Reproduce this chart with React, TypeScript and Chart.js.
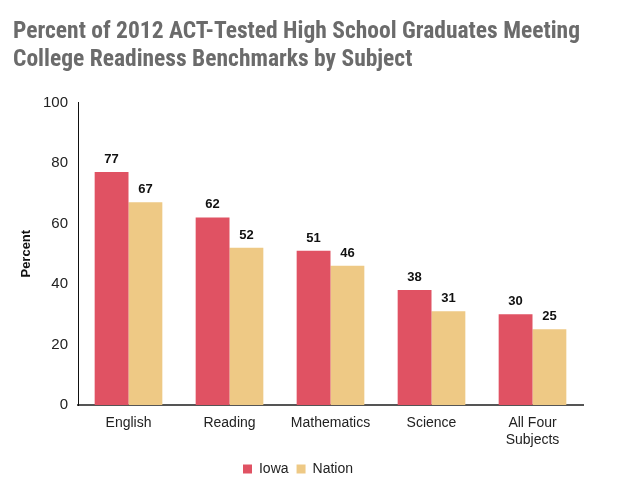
import React, { useEffect, useRef } from "react";
import { Chart, registerables } from "chart.js";

Chart.register(...registerables);

const categories: (string | string[])[] = ["English", "Reading", "Mathematics", "Science", ["All Four", "Subjects"]];
const iowaValues = [77, 62, 51, 38, 30];
const nationValues = [67, 52, 46, 31, 25];
const yTicks = [0, 20, 40, 60, 80, 100];
const titleLines = [
  "Percent of 2012 ACT-Tested High School Graduates Meeting",
  "College Readiness Benchmarks by Subject",
];

const valueLabels = {
  id: "valueLabels",
  afterDatasetsDraw(chart: any) {
    const ctx = chart.ctx;
    ctx.save();
    ctx.font = "bold 13px 'Liberation Sans', Arial, sans-serif";
    ctx.fillStyle = "#111";
    ctx.textAlign = "center";
    ctx.textBaseline = "bottom";
    chart.data.datasets.forEach((ds: any, i: number) => {
      const meta = chart.getDatasetMeta(i);
      meta.data.forEach((bar: any, j: number) => {
        ctx.fillText(String(ds.data[j]), bar.x, bar.y - 6);
      });
    });
    ctx.restore();
  },
};

export default function App() {
  const ref = useRef<HTMLCanvasElement>(null);
  useEffect(() => {
    if (!ref.current) return;
    const chart = new Chart(ref.current, {
      type: "bar",
      data: {
        labels: categories as any,
        datasets: [
          { label: "Iowa", data: iowaValues, backgroundColor: "#e05263", categoryPercentage: 0.67, barPercentage: 1 },
          { label: "Nation", data: nationValues, backgroundColor: "#eec985", categoryPercentage: 0.67, barPercentage: 1 },
        ],
      },
      options: {
        animation: false,
        responsive: false,
        layout: { padding: { left: 13, right: 37, top: 0, bottom: 4 } },
        plugins: {
          title: {
            display: true,
            text: titleLines,
            align: "start",
            color: "#6b6b6b",
            font: { family: "'Liberation Sans Narrow', 'Roboto Condensed', sans-serif", size: 23.5, weight: "bold", lineHeight: 1.2 },
            padding: { top: 18, bottom: 28 },
          },
          legend: {
            position: "bottom",
            labels: {
              boxWidth: 9,
              boxHeight: 9,
              padding: 8,
              color: "#222",
              font: { family: "'Liberation Sans', Arial, sans-serif", size: 14 },
            },
          },
          tooltip: { enabled: false },
        },
        scales: {
          x: {
            grid: { display: false, drawTicks: false },
            border: { color: "#555", width: 2 },
            afterFit(scale: any) {
              scale.height = scale.height - 4;
            },
            ticks: {
              color: "#222",
              padding: 9,
              font: { family: "'Liberation Sans', Arial, sans-serif", size: 14, lineHeight: 1.25 },
            },
          },
          y: {
            min: 0,
            max: 100,
            afterBuildTicks(scale: any) {
              scale.ticks = yTicks.map((v) => ({ value: v }));
            },
            afterFit(scale: any) {
              scale.width = 65;
            },
            grid: { display: false, drawTicks: false },
            border: { color: "#111", width: 1 },
            ticks: {
              color: "#222",
              padding: 10,
              font: { family: "'Liberation Sans', Arial, sans-serif", size: 15 },
            },
            title: {
              display: true,
              text: "Percent",
              color: "#111",
              font: { family: "'Liberation Sans', Arial, sans-serif", size: 13, weight: "bold" },
              padding: { top: 6, bottom: 0 },
            },
          },
        },
      },
      plugins: [valueLabels],
    });
    return () => chart.destroy();
  }, []);
  return (
    <div style={{ position: "absolute", left: 0, top: 0, width: 620, height: 490, background: "#fff" }}>
      <canvas ref={ref} width={620} height={490} />
    </div>
  );
}
